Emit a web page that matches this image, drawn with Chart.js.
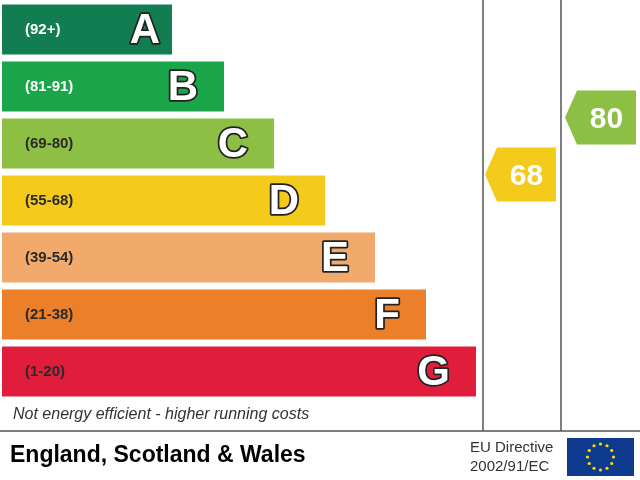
<!DOCTYPE html><html><head><style>body{margin:0;background:#fff}#w{width:640px;height:480px;position:relative}</style>
<script src="https://cdn.jsdelivr.net/npm/chart.js@4"></script></head><body><div id="w"><canvas id="c"></canvas></div><script>
const bands=['A','B','C','D','E','F','G'];
const ranges=['(92+)','(81-91)','(69-80)','(55-68)','(39-54)','(21-38)','(1-20)'];
const barEnds=[172,224,274,325,375,426,476];
const colors=['#137d52','#1ba54b','#8cbf43','#f4cb1b','#f2aa6c','#ec7f2a','#e01e3c'];
const current=68, currentBand=3, potential=80, potentialBand=2;
const deco={id:'deco',afterDatasetsDraw(ch){
 const c=ch.ctx,y=ch.scales.y,x=ch.scales.x;
 c.save();
 c.strokeStyle='#555';c.lineWidth=1.5;
 c.beginPath();c.moveTo(483,0);c.lineTo(483,431);c.moveTo(561,0);c.lineTo(561,431);c.moveTo(0,431);c.lineTo(640,431);c.stroke();
 bands.forEach((b,i)=>{const yc=y.getPixelForValue(i);
  c.font='bold 15px "Liberation Sans", Arial';c.textBaseline='middle';c.textAlign='left';
  c.fillStyle=i<2?'#fff':'#2a2a2a';c.fillText(ranges[i],25,yc);
  c.fillStyle='#fff';c.font='bold 42px "Liberation Sans", Arial';c.textAlign='right';c.lineWidth=3.5;c.strokeStyle='#222';c.lineJoin='round';
  const xe=x.getPixelForValue(barEnds[i])-(i==0?12:26);c.strokeText(b,xe,yc+2);c.fillText(b,xe,yc+2);});
 function arrow(v,bi,x0,x1){const yc=y.getPixelForValue(bi)-26,h=27;c.fillStyle=colors[bi];
  c.beginPath();c.moveTo(x0,yc);c.lineTo(x0+12,yc-h);c.lineTo(x1,yc-h);c.lineTo(x1,yc+h);c.lineTo(x0+12,yc+h);c.closePath();c.fill();
  c.fillStyle='#fff';c.font='bold 30px "Liberation Sans", Arial';c.textAlign='center';c.textBaseline='middle';c.fillText(String(v),(x0+x1)/2+6,yc+2);}
 arrow(current,currentBand,485,556);arrow(potential,potentialBand,565,636);
 c.fillStyle='#333';c.font='italic 16px "Liberation Sans", Arial';c.textAlign='left';c.textBaseline='middle';
 c.fillText('Not energy efficient - higher running costs',13,415);
 c.fillStyle='#000';c.font='bold 23px "Liberation Sans", Arial';c.fillText('England, Scotland & Wales',10,456);
 c.fillStyle='#333';c.font='15px "Liberation Sans", Arial';c.fillText('EU Directive',470,448);c.fillText('2002/91/EC',470,467);
 c.fillStyle='#0f3b8f';c.fillRect(567,438,67,38);c.fillStyle='#ffdd00';
 for(let k=0;k<12;k++){const a=k*Math.PI/6;c.beginPath();c.arc(600.5+13*Math.cos(a),457+13*Math.sin(a),1.6,0,7);c.fill();}
 c.restore();}};
new Chart(document.getElementById('c'),{type:'bar',data:{labels:bands,datasets:[{data:barEnds.map(e=>[2,e]),backgroundColor:colors,barPercentage:50/57,categoryPercentage:1}]},
options:{indexAxis:'y',responsive:true,maintainAspectRatio:false,animation:false,layout:{padding:{top:1,bottom:80,left:0,right:0}},
plugins:{legend:{display:false},tooltip:{enabled:false}},
scales:{x:{type:'linear',min:0,max:640,display:false},y:{display:false}}},plugins:[deco]});
</script></body></html>
